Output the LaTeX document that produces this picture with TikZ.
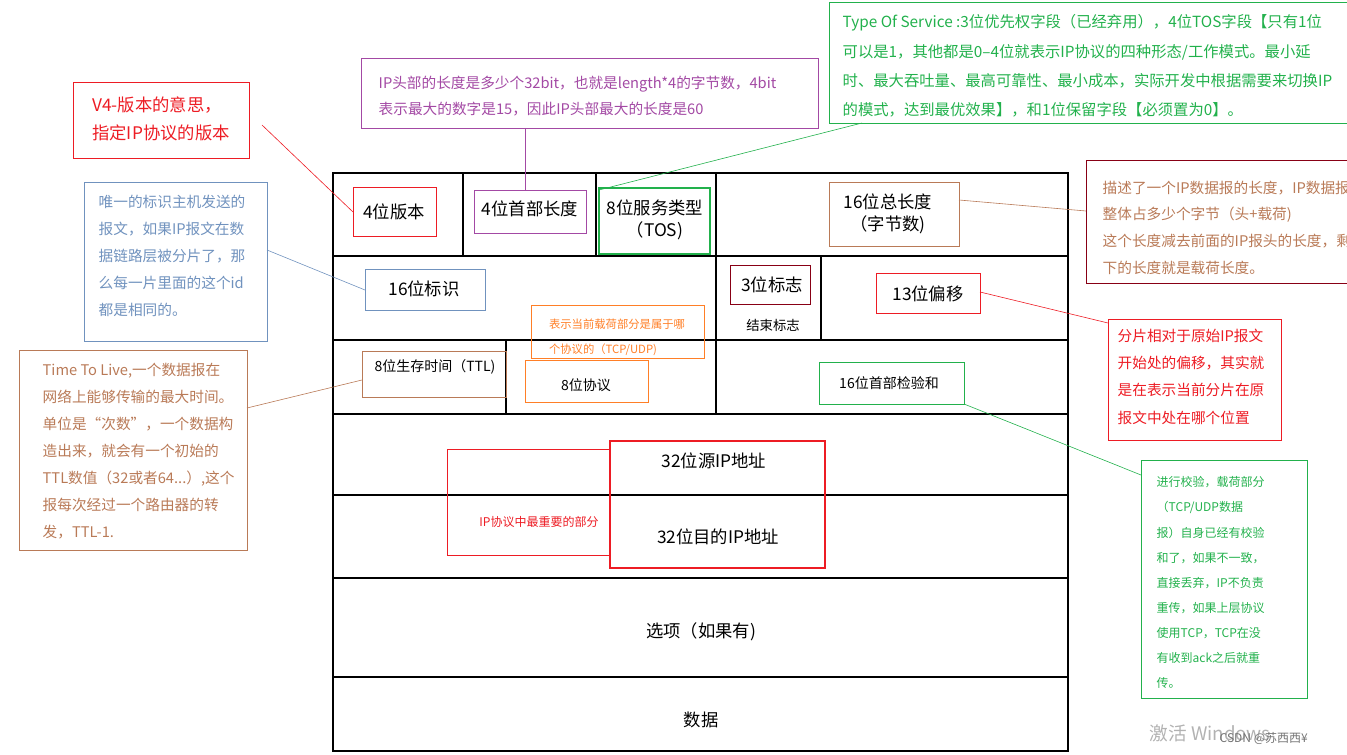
\documentclass[tikz,border=0pt]{standalone}
\usepackage{fontspec}
\setmainfont{Noto Sans CJK SC}
\begin{document}
\begin{tikzpicture}[x=0.75pt,y=-0.75pt,
  cell/.style={draw=black,line width=0.9pt},
  bx/.style={draw,line width=0.6pt,inner sep=0pt},
  note/.style={draw,line width=0.6pt,align=left,inner sep=0pt},
  lbl/.style={font=\fontsize{13}{16}\selectfont},
  conn/.style={line width=0.45pt}]
\useasboundingbox (0,0) rectangle (1347,755);
\definecolor{cred}{RGB}{237,28,36}
\definecolor{cpur}{RGB}{163,73,164}
\definecolor{cgrn}{RGB}{34,177,76}
\definecolor{cbrn}{RGB}{185,122,87}
\definecolor{cblu}{RGB}{112,146,190}
\definecolor{cdred}{RGB}{136,0,21}
\definecolor{corg}{RGB}{255,127,39}
% table
\foreach \a/\b in {173/256,256/340,340/414,414/495,495/578,578/677,677/751}
  \draw[cell] (333,\a) rectangle (1068,\b);
\draw[cell] (463,173)--(463,256) (596,173)--(596,256) (716,173)--(716,256);
\draw[cell] (716,256)--(716,340) (821,256)--(821,340);
\draw[cell] (506,340)--(506,414) (716,340)--(716,414);
% field boxes
\draw[bx,cred] (353,187) rectangle (436,236); \node[lbl] (ver) at (394,212) {4位版本};
\draw[bx,cpur] (474,190) rectangle (586,233); \node[lbl] (hl) at (530,209) {4位首部长度};
\draw[bx,cgrn,line width=1pt] (599,188) rectangle (710,254);
\node[lbl,align=center] (tos) at (655,220) {8位服务类型\\（TOS)};
\draw[bx,cbrn] (829,182) rectangle (959,246);
\node[lbl,align=center] (tl) at (888,214) {16位总长度\\（字节数)};
\draw[bx,cblu] (365,269) rectangle (485,310); \node[lbl] (id) at (424,289) {16位标识};
\draw[bx,cdred] (730,265) rectangle (810,304); \node[lbl] (flag) at (772,285) {3位标志};
\node[font=\fontsize{10}{12}\selectfont] (end) at (773,325) {结束标志};
\draw[bx,cred] (876,273) rectangle (980,313); \node[lbl] (off) at (928,294) {13位偏移};
\draw[bx,corg] (531,305) rectangle (704,358);
\node[font=\fontsize{8.5}{19}\selectfont,text=corg,align=left] (pn) at (617,337) {表示当前载荷部分是属于哪\\个协议的（TCP/UDP)};
\draw[bx,cbrn] (362,351) rectangle (506,397); \node[font=\fontsize{10.5}{12}\selectfont] (ttl) at (435,367) {8位生存时间（TTL)};
\draw[bx,corg] (525,360) rectangle (648,402); \node[font=\fontsize{10.5}{12}\selectfont] (pro) at (586,385) {8位协议};
\draw[bx,cgrn] (819,362) rectangle (964,404); \node[font=\fontsize{10.5}{12}\selectfont] (ck) at (889,383) {16位首部检验和};
\draw[bx,cred,line width=0.8pt] (610,441) rectangle (825,568);
\node[lbl] (src) at (714,461) {32位源IP地址};
\node[lbl] (dst) at (718,537) {32位目的IP地址};
\draw[bx,cred] (447,449) rectangle (610,555);
\node[font=\fontsize{9}{11}\selectfont,text=cred] (imp) at (539,522) {IP协议中最重要的部分};
\node[lbl] (opt) at (701,632) {选项（如果有)};
\node[lbl] (dat) at (701,720) {数据};
% notes
\draw[note,cred] (73,82) rectangle (249,158);
\node[font=\fontsize{13}{21}\selectfont,text=cred,align=left] (n1) at (161,119) {V4-版本的意思，\\指定IP协议的版本};
\draw[note,cpur] (361,58) rectangle (818,128);
\node[font=\fontsize{11}{20}\selectfont,text=cpur,align=left,anchor=north west] (n2) at (374,71) {IP头部的长度是多少个32bit，也就是length*4的字节数，4bit\\表示最大的数字是15，因此IP头部最大的长度是60};
\draw[note,cgrn] (829,2) rectangle (1360,123);
\node[font=\fontsize{11.5}{22}\selectfont,text=cgrn,align=left,anchor=north west] (n3) at (838,10) {Type Of Service :3位优先权字段（已经弃用），4位TOS字段【只有1位\\可以是1，其他都是0--4位就表示IP协议的四种形态/工作模式。最小延\\时、最大吞吐量、最高可靠性、最小成本，实际开发中根据需要来切换IP\\的模式，达到最优效果】，和1位保留字段【必须置为0】。};
\draw[note,cdred] (1086,160) rectangle (1360,283);
\node[font=\fontsize{11}{20}\selectfont,text=cbrn,align=left,anchor=north west] (n4) at (1098,176) {描述了一个IP数据报的长度，IP数据报\\整体占多少个字节（头+载荷)\\这个长度减去前面的IP报头的长度，剩\\下的长度就是载荷长度。};
\draw[note,cblu] (84,182) rectangle (267,341);
\node[font=\fontsize{11}{20.3}\selectfont,text=cblu,align=left,anchor=north west] (n5) at (94,190) {唯一的标识主机发送的\\报文，如果IP报文在数\\据链路层被分片了，那\\么每一片里面的这个id\\都是相同的。};
\draw[note,cbrn] (19,350) rectangle (247,550);
\node[font=\fontsize{11}{20.3}\selectfont,text=cbrn,align=left,anchor=north west] (n6) at (38,358) {Time To Live,一个数据报在\\网络上能够传输的最大时间。\\单位是“次数”，一个数据构\\造出来，就会有一个初始的\\TTL数值（32或者64...）,这个\\报每次经过一个路由器的转\\发，TTL-1.};
\draw[note,cred] (1108,319) rectangle (1281,440);
\node[font=\fontsize{11}{20.5}\selectfont,text=cred,align=left,anchor=north west] (n7) at (1113,324) {分片相对于原始IP报文\\开始处的偏移，其实就\\是在表示当前分片在原\\报文中处在哪个位置};
\draw[note,cgrn] (1141,460) rectangle (1307,698);
\node[font=\fontsize{9}{18.8}\selectfont,text=cgrn,align=left,anchor=north west] (n8) at (1152,472) {进行校验，载荷部分\\（TCP/UDP数据\\报）自身已经有校验\\和了，如果不一致，\\直接丢弃，IP不负责\\重传，如果上层协议\\使用TCP，TCP在没\\有收到ack之后就重\\传。};
% connectors
\coordinate (c1) at (262,125); \coordinate (c1b) at (353,212);
\draw[conn,cred] (c1)--(c1b);
\coordinate (c2) at (525,128); \coordinate (c2b) at (525,190);
\draw[conn,cpur] (c2)--(c2b);
\coordinate (c3) at (862,123); \coordinate (c3b) at (599,190);
\draw[conn,cgrn] (c3)--(c3b);
\coordinate (c4) at (959,200); \coordinate (c4b) at (1086,211);
\draw[conn,cbrn] (c4)--(c4b);
\coordinate (c5) at (267,250); \coordinate (c5b) at (365,290);
\draw[conn,cblu] (c5)--(c5b);
\coordinate (c6) at (247,408); \coordinate (c6b) at (362,380);
\draw[conn,cbrn] (c6)--(c6b);
\coordinate (c7) at (980,292); \coordinate (c7b) at (1108,323);
\draw[conn,cred] (c7)--(c7b);
\coordinate (c8) at (964,404); \coordinate (c8b) at (1141,475);
\draw[conn,cgrn] (c8)--(c8b);
% watermark
\node[text=black!30,font=\fontsize{14}{16}\selectfont,anchor=west] (wm) at (1145,733) {激活 Windows};
\node[text=black!55,font=\fontsize{9}{11}\selectfont,anchor=west] (cs) at (1215,738) {CSDN @苏西西¥};
\end{tikzpicture}
\end{document}
